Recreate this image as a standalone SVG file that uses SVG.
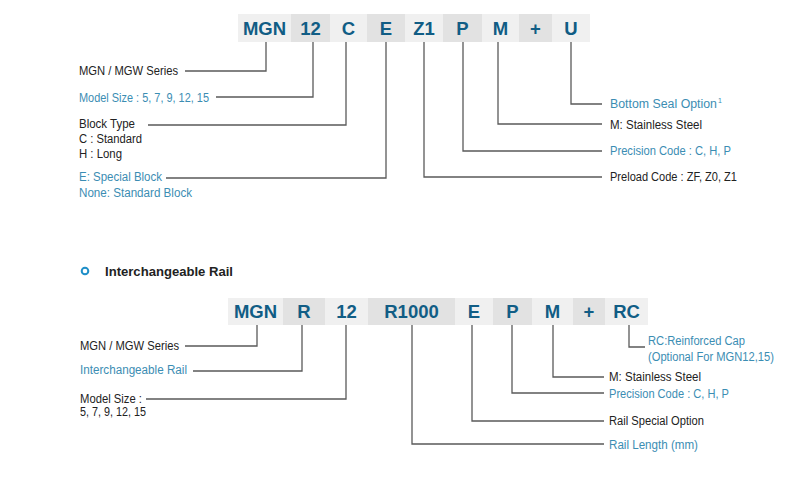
<svg xmlns="http://www.w3.org/2000/svg" width="800" height="477" viewBox="0 0 800 477">
<style>
.bl{fill:#f0f0f0}
.bd{fill:#e2e2e2}
.code{font-family:"Liberation Sans",Arial,sans-serif;font-weight:bold;font-size:18.5px;fill:#115d85;text-anchor:middle}
.t{font-family:"Liberation Sans",Arial,sans-serif;font-size:12.5px;fill:#222}
.b{font-family:"Liberation Sans",Arial,sans-serif;font-size:12.5px;fill:#3b8db3}
.h{font-family:"Liberation Sans",Arial,sans-serif;font-size:13.5px;font-weight:bold;fill:#222}
.ln{fill:none;stroke:#5a5a5a;stroke-width:1.3}
</style>
<rect width="800" height="477" fill="#ffffff"/>

<g id="code-top">
  <g id="box-MGN"><rect class="bl" x="238" y="14" width="53" height="28"/><text class="code" x="264.5" y="35">MGN</text></g>
  <g id="box-12"><rect class="bd" x="291" y="14" width="39" height="28"/><text class="code" x="310.5" y="35">12</text></g>
  <g id="box-C"><rect class="bl" x="330" y="14" width="37" height="28"/><text class="code" x="348.5" y="35">C</text></g>
  <g id="box-E"><rect class="bd" x="367" y="14" width="38" height="28"/><text class="code" x="386" y="35">E</text></g>
  <g id="box-Z1"><rect class="bl" x="405" y="14" width="38" height="28"/><text class="code" x="424" y="35">Z1</text></g>
  <g id="box-P"><rect class="bd" x="443" y="14" width="39" height="28"/><text class="code" x="462.5" y="35">P</text></g>
  <g id="box-M"><rect class="bl" x="482" y="14" width="37" height="28"/><text class="code" x="500.5" y="35">M</text></g>
  <g id="box-plus"><rect class="bd" x="519" y="14" width="33" height="28"/><text class="code" x="535.5" y="35">+</text></g>
  <g id="box-U"><rect class="bl" x="552" y="14" width="38" height="28"/><text class="code" x="571" y="35">U</text></g>
</g>

<g id="code-bottom">
  <g id="rbox-MGN"><rect class="bl" x="228" y="298" width="55" height="27"/><text class="code" x="255.5" y="318">MGN</text></g>
  <g id="rbox-R"><rect class="bd" x="283" y="298" width="42" height="27"/><text class="code" x="304" y="318">R</text></g>
  <g id="rbox-12"><rect class="bl" x="325" y="298" width="43" height="27"/><text class="code" x="346.5" y="318">12</text></g>
  <g id="rbox-R1000"><rect class="bd" x="368" y="298" width="87" height="27"/><text class="code" x="411.5" y="318">R1000</text></g>
  <g id="rbox-E"><rect class="bl" x="455" y="298" width="38" height="27"/><text class="code" x="474" y="318">E</text></g>
  <g id="rbox-P"><rect class="bd" x="493" y="298" width="39" height="27"/><text class="code" x="512.5" y="318">P</text></g>
  <g id="rbox-M"><rect class="bl" x="532" y="298" width="41" height="27"/><text class="code" x="552.5" y="318">M</text></g>
  <g id="rbox-plus"><rect class="bd" x="573" y="298" width="32" height="27"/><text class="code" x="589" y="318">+</text></g>
  <g id="rbox-RC"><rect class="bl" x="605" y="298" width="43" height="27"/><text class="code" x="626.5" y="318">RC</text></g>
</g>

<g id="connectors">
  <path class="ln" d="M266,42 V71 H185"/>
  <path class="ln" d="M313,42 V97 H216"/>
  <path class="ln" d="M346,42 V125 H148"/>
  <path class="ln" d="M386,42 V178 H166"/>
  <path class="ln" d="M424,42 V177 H602"/>
  <path class="ln" d="M463,42 V151 H602"/>
  <path class="ln" d="M498,42 V124 H602"/>
  <path class="ln" d="M571,42 V104 H602"/>

  <path class="ln" d="M257,325 V346 H185"/>
  <path class="ln" d="M302,325 V371 H193"/>
  <path class="ln" d="M346,325 V399 H146"/>
  <path class="ln" d="M412,325 V444 H604"/>
  <path class="ln" d="M472,325 V421 H604"/>
  <path class="ln" d="M512,325 V393 H604"/>
  <path class="ln" d="M553,325 V377 H604"/>
  <path class="ln" d="M629,325 V347 H645"/>
</g>

<g id="labels-top-left">
  <text class="t" x="79" y="75" textLength="99" lengthAdjust="spacingAndGlyphs">MGN / MGW Series</text>
  <text class="b" x="79" y="102" textLength="130" lengthAdjust="spacingAndGlyphs">Model Size : 5, 7, 9, 12, 15</text>
  <text class="t" x="79" y="128" textLength="56" lengthAdjust="spacingAndGlyphs">Block Type</text>
  <text class="t" x="79" y="143" textLength="63" lengthAdjust="spacingAndGlyphs">C : Standard</text>
  <text class="t" x="79" y="158" textLength="43" lengthAdjust="spacingAndGlyphs">H : Long</text>
  <text class="b" x="79" y="181" textLength="83" lengthAdjust="spacingAndGlyphs">E: Special Block</text>
  <text class="b" x="79" y="197" textLength="113" lengthAdjust="spacingAndGlyphs">None: Standard Block</text>
</g>

<g id="labels-top-right">
  <text class="b" x="610" y="108"><tspan textLength="107" lengthAdjust="spacingAndGlyphs">Bottom Seal Option</tspan><tspan font-size="7" dx="1" dy="-5">1</tspan></text>
  <text class="t" x="610" y="129" textLength="92" lengthAdjust="spacingAndGlyphs">M: Stainless Steel</text>
  <text class="b" x="610" y="155" textLength="121" lengthAdjust="spacingAndGlyphs">Precision Code : C, H, P</text>
  <text class="t" x="610" y="181" textLength="127" lengthAdjust="spacingAndGlyphs">Preload Code : ZF, Z0, Z1</text>
</g>

<g id="section-heading">
  <circle cx="85" cy="271" r="3.3" fill="none" stroke="#1f8fc8" stroke-width="2"/>
  <text class="h" x="105" y="276" textLength="128" lengthAdjust="spacingAndGlyphs">Interchangeable Rail</text>
</g>

<g id="labels-bottom-left">
  <text class="t" x="80" y="350" textLength="99" lengthAdjust="spacingAndGlyphs">MGN / MGW Series</text>
  <text class="b" x="80" y="374" textLength="107" lengthAdjust="spacingAndGlyphs">Interchangeable Rail</text>
  <text class="t" x="80" y="403" textLength="62" lengthAdjust="spacingAndGlyphs">Model Size :</text>
  <text class="t" x="80" y="416" textLength="66" lengthAdjust="spacingAndGlyphs">5, 7, 9, 12, 15</text>
</g>

<g id="labels-bottom-right">
  <text class="b" x="648" y="345" textLength="97" lengthAdjust="spacingAndGlyphs">RC:Reinforced Cap</text>
  <text class="b" x="648" y="361" textLength="126" lengthAdjust="spacingAndGlyphs">(Optional For MGN12,15)</text>
  <text class="t" x="609" y="381" textLength="92" lengthAdjust="spacingAndGlyphs">M: Stainless Steel</text>
  <text class="b" x="609" y="398" textLength="120" lengthAdjust="spacingAndGlyphs">Precision Code : C, H, P</text>
  <text class="t" x="609" y="425" textLength="95" lengthAdjust="spacingAndGlyphs">Rail Special Option</text>
  <text class="b" x="609" y="449" textLength="89" lengthAdjust="spacingAndGlyphs">Rail Length (mm)</text>
</g>
</svg>
